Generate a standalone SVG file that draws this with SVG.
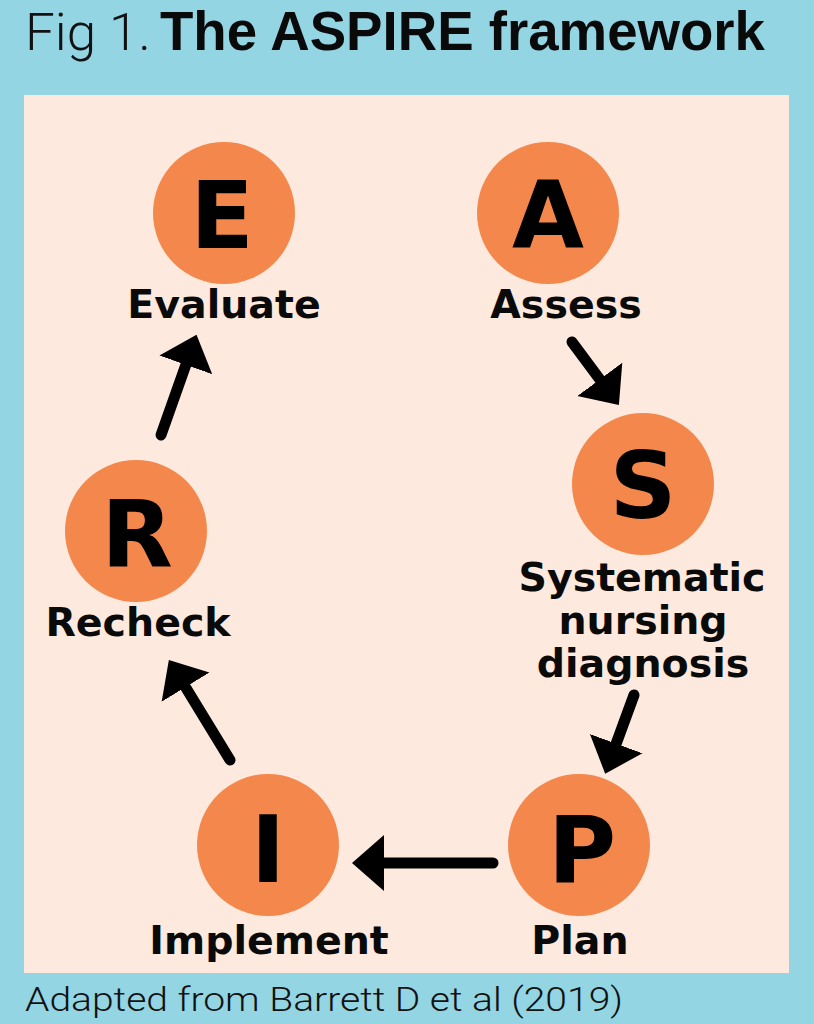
<svg xmlns="http://www.w3.org/2000/svg" width="814" height="1024" viewBox="0 0 814 1024">
  <style>
    .circ { fill: #f4874b; }
    .letter { font-family: "DejaVu Sans", "Liberation Sans", sans-serif; font-weight: bold; font-size: 93px; fill: #000; text-anchor: middle; }
    .label { font-family: "DejaVu Sans", "Liberation Sans", sans-serif; font-weight: bold; font-size: 39.5px; fill: #0a0a0a; text-anchor: middle; }
    .light { font-family: "Roboto", "Liberation Sans", sans-serif; font-weight: 300; fill: #111; }
    .bold { font-family: "Liberation Sans", "Arial", sans-serif; font-weight: bold; fill: #0a0a0a; }
    .conn { stroke: #000; stroke-width: 11; stroke-linecap: round; fill: none; marker-end: url(#head); }
  </style>
  <defs>
    <marker id="head" markerUnits="userSpaceOnUse" markerWidth="34" markerHeight="60" viewBox="-1 -30 34 60" refX="1" refY="0" orient="auto">
      <path d="M-1,-28 L31,0 L-1,28 Z" fill="#000"/>
    </marker>
  </defs>

  <rect x="0" y="0" width="814" height="1024" fill="#93d5e3"/>
  <rect x="24" y="95" width="765" height="878" fill="#fde9dd"/>

  <text x="25" y="50" class="light" font-size="52" textLength="126" lengthAdjust="spacingAndGlyphs">Fig 1.</text>
  <text x="160" y="50" class="bold" font-size="55" textLength="605" lengthAdjust="spacingAndGlyphs">The ASPIRE framework</text>

  <g id="connectors">
    <line class="conn" x1="572" y1="342" x2="601" y2="381"/>
    <line class="conn" x1="634" y1="695" x2="615.5" y2="745.5"/>
    <line class="conn" x1="493" y1="863" x2="382" y2="863"/>
    <line class="conn" x1="230" y1="760" x2="184.5" y2="685.5"/>
    <line class="conn" x1="161" y1="435" x2="186.5" y2="363"/>
  </g>

  <g id="node-A">
    <circle class="circ" cx="548" cy="213" r="71"/>
    <text class="letter" x="548" y="247">A</text>
    <text class="label" x="566" y="318">Assess</text>
  </g>
  <g id="node-S">
    <circle class="circ" cx="643" cy="484" r="71"/>
    <text class="letter" x="643" y="518">S</text>
    <text class="label" x="642" y="591">Systematic</text>
    <text class="label" x="643" y="634">nursing</text>
    <text class="label" x="643" y="677">diagnosis</text>
  </g>
  <g id="node-P">
    <circle class="circ" cx="579" cy="845" r="71"/>
    <text class="letter" x="582" y="882">P</text>
    <text class="label" x="580" y="954">Plan</text>
  </g>
  <g id="node-I">
    <circle class="circ" cx="268" cy="845" r="71"/>
    <text class="letter" x="268" y="882">I</text>
    <text class="label" x="269" y="954">Implement</text>
  </g>
  <g id="node-R">
    <circle class="circ" cx="136" cy="531" r="71"/>
    <text class="letter" x="137" y="567">R</text>
    <text class="label" x="138" y="636">Recheck</text>
  </g>
  <g id="node-E">
    <circle class="circ" cx="224" cy="213" r="71"/>
    <text class="letter" x="222" y="248">E</text>
    <text class="label" x="224" y="318">Evaluate</text>
  </g>

  <text x="25" y="1011" class="light" font-size="33" textLength="598" lengthAdjust="spacingAndGlyphs">Adapted from Barrett D et al (2019)</text>
</svg>
